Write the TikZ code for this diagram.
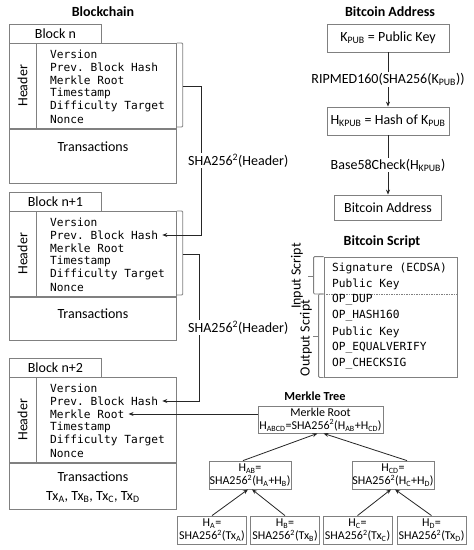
\documentclass[tikz,border=0pt]{standalone}
\usepackage{fontspec}
\setmainfont{Carlito}
\setmonofont{DejaVu Sans Mono}
\usetikzlibrary{arrows.meta,positioning}
\newcommand{\sbs}[1]{\textsubscript{#1}}
\newcommand{\shasq}{SHA256\textsuperscript{2}}

\begin{document}
\begin{tikzpicture}[x=1pt, y=-1pt, >={Stealth[length=5pt,width=4pt]},
  box/.style={draw=black!50, line width=0.8pt, inner sep=0pt},
  link/.style={draw=black!85, line width=0.8pt},
  title/.style={font=\fontsize{14}{16}\selectfont\bfseries, inner sep=1pt},
  txt/.style={font=\fontsize{14}{16}\selectfont, inner sep=1pt},
  field/.style={font=\fontsize{11.2}{13}\selectfont\ttfamily, inner xsep=4pt, inner ysep=0pt, anchor=west},
  tree/.style={box, font=\fontsize{12}{13}\selectfont, align=center, minimum height=28pt},
  hashlbl/.style={txt, fill=white, anchor=west}]

\fill[white] (0,0) rectangle (474,550);
\useasboundingbox (0,0) rectangle (474,550);

\node[title] (tchain) at (103,12) {Blockchain};
\node[title] (taddr) at (390,12) {Bitcoin Address};
\node[title] (tscript) at (382,242) {Bitcoin Script};
\node[title, font=\fontsize{12.3}{14}\selectfont\bfseries] (ttree) at (315,396) {Merkle Tree};

\foreach \b/\t/\tr/\ty [count=\i] in {n/24/54/18, n+1/192/43/17, n+2/358/46/14} {
  \node[box, txt, minimum width=92, minimum height=19, anchor=north west] (tab\i) at (9,\t) {Block \b};
  \node[box, minimum width=167, minimum height=85, anchor=north west] (hdr\i) at (9,\t+19) {};
  \draw[box] ([xshift=27pt]hdr\i.north west) -- ([xshift=27pt]hdr\i.south west);
  \node[txt, rotate=90] (hlbl\i) at ([xshift=13.5pt]hdr\i.west) {Header};
  \node[box, minimum width=167, minimum height=\tr*1pt, anchor=north west] (tx\i) at (hdr\i.south west) {};
  \node[txt] (txl\i) at ([yshift=-\ty pt]tx\i.north) {Transactions};
  \foreach \f [count=\k] in {Version,Prev. Block Hash,Merkle Root,Timestamp,Difficulty Target,Nonce}
    \node[field] (f\i-\k) at (46,\t+30+13*\k-13) {\f};
}

\node[txt] (txs3) at ([yshift=-34pt]tx3.north) {Tx\sbs{A}, Tx\sbs{B}, Tx\sbs{C}, Tx\sbs{D}};

\foreach \i in {1,2} {
  \draw[box, rounded corners=1pt] (hdr\i.north east) -- ++(6,0) -- ++(0,84) -- ++(-6,0);
  \coordinate (hout\i) at ([xshift=6pt]hdr\i.east);
}

\draw[link, ->] (hout1) -- ++(19,0) |- (f2-2.east)
  node[pos=0.25, hashlbl, xshift=-15pt] {\shasq(Header)};
\draw[link, ->] (hout2) -- ++(17,0) |- (f3-2.east)
  node[pos=0.25, hashlbl, xshift=-13pt] {\shasq(Header)};

\node[box, txt, minimum width=122, minimum height=28] (kpub) at (388,38) {K\sbs{PUB} = Public Key};
\node[box, txt, minimum width=122, minimum height=28] (hkpub) at (388,121) {H\sbs{KPUB} = Hash of K\sbs{PUB}};
\node[box, txt, minimum width=107, minimum height=25] (addr) at (388,207.5) {Bitcoin Address};

\draw[link, ->] (kpub) -- (hkpub)
  node[midway, txt, fill=white] {RIPMED160(SHA256(K\sbs{PUB}))};
\draw[link, ->] (hkpub) -- (addr)
  node[midway, txt, fill=white] {Base58Check(H\sbs{KPUB})};

\node[box, minimum width=133, minimum height=120] (script) at (390.5,317) {};
\coordinate (sdiv) at (390,294);
\draw[box, dash pattern=on 1.5pt off 1pt] (script.west |- sdiv) -- (script.east |- sdiv);
\foreach \s [count=\k] in {Signature (ECDSA),Public Key,OP\_DUP,OP\_HASH160,Public Key,OP\_EQUALVERIFY,OP\_CHECKSIG}
  \node[field] (s\k) at (328,268+16*\k-16) {\s};

\draw[box, rounded corners=1pt] (script.north west) -- ++(-10,0) |- (script.west |- sdiv);
\draw[box] ([xshift=-10pt]script.north west |- 0,276) -- ++(-6,0);
\draw[box, rounded corners=1pt] (script.west |- sdiv) -- ++(-5,0) |- (script.south west);
\draw[box] ([xshift=-5pt]script.west |- 0,336) -- ++(-6,0);
\node[txt, rotate=90] (inlbl) at (297,276) {Input Script};
\node[txt, rotate=90] (outlbl) at (306,338) {Output Script};

\node[tree, minimum width=125, minimum height=27] (root) at (320.5,419.5) {Merkle Root\\H\sbs{ABCD}=\shasq(H\sbs{AB}+H\sbs{CD})};
\node[tree, minimum width=82] (hab) at (250,475) {H\sbs{AB}=\\\shasq(H\sbs{A}+H\sbs{B})};
\node[tree, minimum width=82] (hcd) at (393,475) {H\sbs{CD}=\\\shasq(H\sbs{C}+H\sbs{D})};
\foreach \n/\x in {a/212, b/285, c/357.5, d/431.5}
  \node[tree, minimum width=69] (h\n) at (\x,530) {H\sbs{\MakeUppercase{\n}}=\\\shasq(Tx\sbs{\MakeUppercase{\n}})};

\draw[link, ->] (ha.north) -- ([xshift=-2pt]hab.south);
\draw[link, ->] (hb.north) -- ([xshift=2pt]hab.south);
\draw[link, ->] (hc.north) -- ([xshift=-2pt]hcd.south);
\draw[link, ->] (hd.north) -- ([xshift=2pt]hcd.south);
\draw[link, ->] ([xshift=-7pt]hab.north) -- ([xshift=-3pt]root.south);
\draw[link, ->] ([xshift=14pt]hcd.north) -- ([xshift=3pt]root.south);

\draw[link, ->] (root.west |- f3-3.east) -- (f3-3.east);

\end{tikzpicture}
\end{document}
